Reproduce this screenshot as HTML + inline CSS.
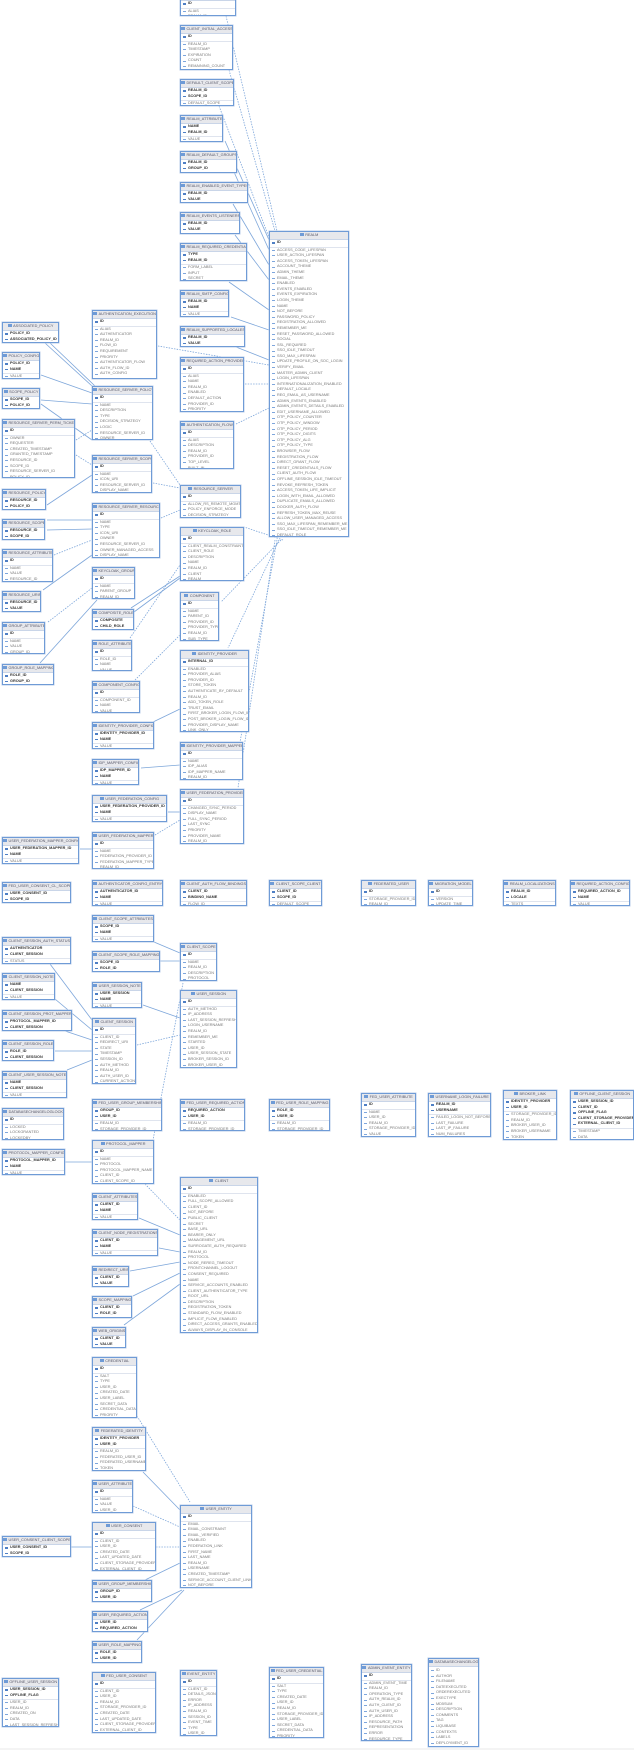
<!DOCTYPE html>
<html><head><meta charset="utf-8"><style>
html,body{margin:0;padding:0;background:#fff;width:634px;height:1750px;overflow:hidden;position:relative}
.t{position:absolute;border:1px solid #6f9bd6;background:#fff;font-family:"Liberation Sans",sans-serif;font-size:3.8px;line-height:5.6px;color:#777;box-sizing:border-box;overflow:hidden;box-shadow:0 0 0 0.5px #b9cdea}
.h{background:#e7e8ec;height:7px;line-height:7px;text-align:center;color:#556;border-bottom:1px solid #c9d5e8;white-space:nowrap;overflow:hidden}
.h:before{content:"";display:inline-block;width:4px;height:3px;background:#6f9bd6;margin-right:1.5px;vertical-align:-0.3px}
.r{padding-left:7px;position:relative;white-space:nowrap;overflow:hidden}
.r:before{content:"";position:absolute;left:2px;top:2.3px;width:3px;height:1px;background:#7ea6dc}
.k{font-weight:bold;color:#333}
.k:before{background:#4f7fc4;height:1.4px}
.s{border-top:1px solid #dfe4ee;margin-top:1px}
svg{position:absolute;left:0;top:0}
</style></head><body>
<svg width="634" height="1750" fill="none" stroke="#7da6da" stroke-width="0.8">
<g stroke-dasharray="1.5,1.2">
<path d="M226 16 L277 231"/><path d="M229 70 L275 231"/><path d="M219 106 L270 240"/>
<path d="M158 346 L269 365"/><path d="M245 384 L269 384"/><path d="M236 424 L269 408"/>
<path d="M283 540 L244 527"/><path d="M281 540 L221 602"/><path d="M279 540 L228 648"/><path d="M277 540 L240 742"/><path d="M275 540 L238 788"/>
<path d="M54 555 L92 540"/><path d="M48 622 L92 588"/><path d="M130 638 L180 565"/><path d="M135 680 L180 635"/>
<path d="M155 835 L180 820"/><path d="M153 483 L180 488"/><path d="M161 518 L180 510"/><path d="M150 441 L180 485"/>
<path d="M76 440 L92 430"/><path d="M76 455 L92 465"/>
<path d="M137 1045 L180 1035"/><path d="M183 983 L153 1140"/><path d="M145 1184 L180 1220"/>
<path d="M137 1416 L190 1502"/><path d="M133 1506 L180 1527"/><path d="M156 1547 L180 1547"/>
</g>
<path d="M225 141 L269 240"/><path d="M234 172 L269 250"/><path d="M233 204 L269 265"/><path d="M235 235 L269 280"/>
<path d="M229 282 L269 310"/><path d="M231 317 L269 330"/><path d="M236 347 L269 360"/>
<path d="M45 343 L92 386"/><path d="M50 343 L95 386"/><path d="M41 375 L92 393"/><path d="M41 400 L92 404"/><path d="M41 404 L92 440"/>
<path d="M47 505 L92 475"/><path d="M47 520 L92 520"/><path d="M47 530 L92 529"/><path d="M43 590 L92 555"/><path d="M40 663 L97 600"/>
<path d="M131 608 L180 576"/><path d="M134 612 L180 578"/><path d="M153 722 L180 709"/><path d="M141 768 L180 765"/><path d="M168 812 L180 812"/><path d="M80 849 L92 849"/>
<path d="M154 942 L180 953"/><path d="M160 961 L180 961"/><path d="M50 964 L92 1020"/><path d="M55 999 L92 1030"/><path d="M65 1031 L92 1040"/>
<path d="M55 1051 L92 1051"/><path d="M67 1070 L92 1060"/><path d="M143 1005 L180 1018"/><path d="M65 1162 L92 1162"/>
<path d="M139 1218 L180 1235"/><path d="M159 1248 L180 1252"/><path d="M130 1271 L180 1262"/><path d="M133 1296 L180 1273"/><path d="M124 1325 L180 1284"/>
<path d="M143 1472 L180 1510"/><path d="M71 1547 L92 1547"/><path d="M145 1580 L180 1563"/><path d="M140 1610 L182 1590"/><path d="M137 1640 L184 1590"/>
<path d="M0 1749 L634 1749" stroke="#e3e3e3"/>
</svg>

<div class=t style="left:180px;top:-8px;width:56px;height:24px"><div class=h>REALM_ALIAS</div><div class="r k">ID</div><div class="r s">ALIAS</div><div class=r>REALM_ID</div></div>
<div class=t style="left:180px;top:25px;width:53px;height:45px"><div class=h>CLIENT_INITIAL_ACCESS</div><div class="r k">ID</div><div class="r s">REALM_ID</div><div class=r>TIMESTAMP</div><div class=r>EXPIRATION</div><div class=r>COUNT</div><div class=r>REMAINING_COUNT</div></div>
<div class=t style="left:180px;top:79px;width:54px;height:27px"><div class=h>DEFAULT_CLIENT_SCOPE</div><div class="r k">REALM_ID</div><div class="r k">SCOPE_ID</div><div class="r s">DEFAULT_SCOPE</div></div>
<div class=t style="left:180px;top:115px;width:43px;height:27px"><div class=h>REALM_ATTRIBUTE</div><div class="r k">NAME</div><div class="r k">REALM_ID</div><div class="r s">VALUE</div></div>
<div class=t style="left:180px;top:151px;width:57px;height:22px"><div class=h>REALM_DEFAULT_GROUPS</div><div class="r k">REALM_ID</div><div class="r k">GROUP_ID</div></div>
<div class=t style="left:180px;top:182px;width:68px;height:21px"><div class=h>REALM_ENABLED_EVENT_TYPES</div><div class="r k">REALM_ID</div><div class="r k">VALUE</div></div>
<div class=t style="left:180px;top:212px;width:60px;height:22px"><div class=h>REALM_EVENTS_LISTENERS</div><div class="r k">REALM_ID</div><div class="r k">VALUE</div></div>
<div class=t style="left:180px;top:243px;width:67px;height:38px"><div class=h>REALM_REQUIRED_CREDENTIAL</div><div class="r k">TYPE</div><div class="r k">REALM_ID</div><div class="r s">FORM_LABEL</div><div class=r>INPUT</div><div class=r>SECRET</div></div>
<div class=t style="left:180px;top:290px;width:49px;height:27px"><div class=h>REALM_SMTP_CONFIG</div><div class="r k">REALM_ID</div><div class="r k">NAME</div><div class="r s">VALUE</div></div>
<div class=t style="left:180px;top:326px;width:65px;height:21px"><div class=h>REALM_SUPPORTED_LOCALES</div><div class="r k">REALM_ID</div><div class="r k">VALUE</div></div>
<div class=t style="left:180px;top:357px;width:64px;height:55px"><div class=h>REQUIRED_ACTION_PROVIDER</div><div class="r k">ID</div><div class="r s">ALIAS</div><div class=r>NAME</div><div class=r>REALM_ID</div><div class=r>ENABLED</div><div class=r>DEFAULT_ACTION</div><div class=r>PROVIDER_ID</div><div class=r>PRIORITY</div></div>
<div class=t style="left:180px;top:421px;width:54px;height:48px"><div class=h>AUTHENTICATION_FLOW</div><div class="r k">ID</div><div class="r s">ALIAS</div><div class=r>DESCRIPTION</div><div class=r>REALM_ID</div><div class=r>PROVIDER_ID</div><div class=r>TOP_LEVEL</div><div class=r>BUILT_IN</div></div>

<div class=t style="left:269px;top:231px;width:80px;height:306px"><div class=h>REALM</div><div class="r k">ID</div><div class="r s">ACCESS_CODE_LIFESPAN</div><div class=r>USER_ACTION_LIFESPAN</div><div class=r>ACCESS_TOKEN_LIFESPAN</div><div class=r>ACCOUNT_THEME</div><div class=r>ADMIN_THEME</div><div class=r>EMAIL_THEME</div><div class=r>ENABLED</div><div class=r>EVENTS_ENABLED</div><div class=r>EVENTS_EXPIRATION</div><div class=r>LOGIN_THEME</div><div class=r>NAME</div><div class=r>NOT_BEFORE</div><div class=r>PASSWORD_POLICY</div><div class=r>REGISTRATION_ALLOWED</div><div class=r>REMEMBER_ME</div><div class=r>RESET_PASSWORD_ALLOWED</div><div class=r>SOCIAL</div><div class=r>SSL_REQUIRED</div><div class=r>SSO_IDLE_TIMEOUT</div><div class=r>SSO_MAX_LIFESPAN</div><div class=r>UPDATE_PROFILE_ON_SOC_LOGIN</div><div class=r>VERIFY_EMAIL</div><div class=r>MASTER_ADMIN_CLIENT</div><div class=r>LOGIN_LIFESPAN</div><div class=r>INTERNATIONALIZATION_ENABLED</div><div class=r>DEFAULT_LOCALE</div><div class=r>REG_EMAIL_AS_USERNAME</div><div class=r>ADMIN_EVENTS_ENABLED</div><div class=r>ADMIN_EVENTS_DETAILS_ENABLED</div><div class=r>EDIT_USERNAME_ALLOWED</div><div class=r>OTP_POLICY_COUNTER</div><div class=r>OTP_POLICY_WINDOW</div><div class=r>OTP_POLICY_PERIOD</div><div class=r>OTP_POLICY_DIGITS</div><div class=r>OTP_POLICY_ALG</div><div class=r>OTP_POLICY_TYPE</div><div class=r>BROWSER_FLOW</div><div class=r>REGISTRATION_FLOW</div><div class=r>DIRECT_GRANT_FLOW</div><div class=r>RESET_CREDENTIALS_FLOW</div><div class=r>CLIENT_AUTH_FLOW</div><div class=r>OFFLINE_SESSION_IDLE_TIMEOUT</div><div class=r>REVOKE_REFRESH_TOKEN</div><div class=r>ACCESS_TOKEN_LIFE_IMPLICIT</div><div class=r>LOGIN_WITH_EMAIL_ALLOWED</div><div class=r>DUPLICATE_EMAILS_ALLOWED</div><div class=r>DOCKER_AUTH_FLOW</div><div class=r>REFRESH_TOKEN_MAX_REUSE</div><div class=r>ALLOW_USER_MANAGED_ACCESS</div><div class=r>SSO_MAX_LIFESPAN_REMEMBER_ME</div><div class=r>SSO_IDLE_TIMEOUT_REMEMBER_ME</div><div class=r>DEFAULT_ROLE</div></div>

<div class=t style="left:2px;top:322px;width:57px;height:21px"><div class=h>ASSOCIATED_POLICY</div><div class="r k">POLICY_ID</div><div class="r k">ASSOCIATED_POLICY_ID</div></div>
<div class=t style="left:2px;top:352px;width:38px;height:27px"><div class=h>POLICY_CONFIG</div><div class="r k">POLICY_ID</div><div class="r k">NAME</div><div class="r s">VALUE</div></div>
<div class=t style="left:2px;top:388px;width:38px;height:21px"><div class=h>SCOPE_POLICY</div><div class="r k">SCOPE_ID</div><div class="r k">POLICY_ID</div></div>
<div class=t style="left:2px;top:419px;width:73px;height:59px"><div class=h>RESOURCE_SERVER_PERM_TICKET</div><div class="r k">ID</div><div class="r s">OWNER</div><div class=r>REQUESTER</div><div class=r>CREATED_TIMESTAMP</div><div class=r>GRANTED_TIMESTAMP</div><div class=r>RESOURCE_ID</div><div class=r>SCOPE_ID</div><div class=r>RESOURCE_SERVER_ID</div><div class=r>POLICY_ID</div></div>
<div class=t style="left:92px;top:310px;width:65px;height:69px"><div class=h>AUTHENTICATION_EXECUTION</div><div class="r k">ID</div><div class="r s">ALIAS</div><div class=r>AUTHENTICATOR</div><div class=r>REALM_ID</div><div class=r>FLOW_ID</div><div class=r>REQUIREMENT</div><div class=r>PRIORITY</div><div class=r>AUTHENTICATOR_FLOW</div><div class=r>AUTH_FLOW_ID</div><div class=r>AUTH_CONFIG</div></div>
<div class=t style="left:92px;top:386px;width:61px;height:54px"><div class=h>RESOURCE_SERVER_POLICY</div><div class="r k">ID</div><div class="r s">NAME</div><div class=r>DESCRIPTION</div><div class=r>TYPE</div><div class=r>DECISION_STRATEGY</div><div class=r>LOGIC</div><div class=r>RESOURCE_SERVER_ID</div><div class=r>OWNER</div></div>
<div class=t style="left:92px;top:455px;width:60px;height:38px"><div class=h>RESOURCE_SERVER_SCOPE</div><div class="r k">ID</div><div class="r s">NAME</div><div class=r>ICON_URI</div><div class=r>RESOURCE_SERVER_ID</div><div class=r>DISPLAY_NAME</div></div>
<div class=t style="left:2px;top:489px;width:44px;height:21px"><div class=h>RESOURCE_POLICY</div><div class="r k">RESOURCE_ID</div><div class="r k">POLICY_ID</div></div>
<div class=t style="left:2px;top:519px;width:43px;height:21px"><div class=h>RESOURCE_SCOPE</div><div class="r k">RESOURCE_ID</div><div class="r k">SCOPE_ID</div></div>
<div class=t style="left:92px;top:503px;width:68px;height:55px"><div class=h>RESOURCE_SERVER_RESOURCE</div><div class="r k">ID</div><div class="r s">NAME</div><div class=r>TYPE</div><div class=r>ICON_URI</div><div class=r>OWNER</div><div class=r>RESOURCE_SERVER_ID</div><div class=r>OWNER_MANAGED_ACCESS</div><div class=r>DISPLAY_NAME</div></div>
<div class=t style="left:2px;top:549px;width:51px;height:33px"><div class=h>RESOURCE_ATTRIBUTE</div><div class="r k">ID</div><div class="r s">NAME</div><div class=r>VALUE</div><div class=r>RESOURCE_ID</div></div>
<div class=t style="left:2px;top:591px;width:39px;height:21px"><div class=h>RESOURCE_URIS</div><div class="r k">RESOURCE_ID</div><div class="r k">VALUE</div></div>
<div class=t style="left:2px;top:622px;width:43px;height:32px"><div class=h>GROUP_ATTRIBUTE</div><div class="r k">ID</div><div class="r s">NAME</div><div class=r>VALUE</div><div class=r>GROUP_ID</div></div>
<div class=t style="left:2px;top:664px;width:52px;height:21px"><div class=h>GROUP_ROLE_MAPPING</div><div class="r k">ROLE_ID</div><div class="r k">GROUP_ID</div></div>
<div class=t style="left:92px;top:567px;width:43px;height:32px"><div class=h>KEYCLOAK_GROUP</div><div class="r k">ID</div><div class="r s">NAME</div><div class=r>PARENT_GROUP</div><div class=r>REALM_ID</div></div>
<div class=t style="left:92px;top:609px;width:42px;height:21px"><div class=h>COMPOSITE_ROLE</div><div class="r k">COMPOSITE</div><div class="r k">CHILD_ROLE</div></div>
<div class=t style="left:92px;top:640px;width:40px;height:31px"><div class=h>ROLE_ATTRIBUTE</div><div class="r k">ID</div><div class="r s">ROLE_ID</div><div class=r>NAME</div><div class=r>VALUE</div></div>
<div class=t style="left:92px;top:681px;width:48px;height:32px"><div class=h>COMPONENT_CONFIG</div><div class="r k">ID</div><div class="r s">COMPONENT_ID</div><div class=r>NAME</div><div class=r>VALUE</div></div>
<div class=t style="left:92px;top:722px;width:62px;height:27px"><div class=h>IDENTITY_PROVIDER_CONFIG</div><div class="r k">IDENTITY_PROVIDER_ID</div><div class="r k">NAME</div><div class="r s">VALUE</div></div>
<div class=t style="left:92px;top:759px;width:47px;height:26px"><div class=h>IDP_MAPPER_CONFIG</div><div class="r k">IDP_MAPPER_ID</div><div class="r k">NAME</div><div class="r s">VALUE</div></div>
<div class=t style="left:92px;top:795px;width:75px;height:27px"><div class=h>USER_FEDERATION_CONFIG</div><div class="r k">USER_FEDERATION_PROVIDER_ID</div><div class="r k">NAME</div><div class="r s">VALUE</div></div>
<div class=t style="left:2px;top:837px;width:77px;height:27px"><div class=h>USER_FEDERATION_MAPPER_CONFIG</div><div class="r k">USER_FEDERATION_MAPPER_ID</div><div class="r k">NAME</div><div class="r s">VALUE</div></div>
<div class=t style="left:92px;top:832px;width:62px;height:37px"><div class=h>USER_FEDERATION_MAPPER</div><div class="r k">ID</div><div class="r s">NAME</div><div class=r>FEDERATION_PROVIDER_ID</div><div class=r>FEDERATION_MAPPER_TYPE</div><div class=r>REALM_ID</div></div>
<div class=t style="left:180px;top:485px;width:61px;height:33px"><div class=h>RESOURCE_SERVER</div><div class="r k">ID</div><div class="r s">ALLOW_RS_REMOTE_MGMT</div><div class=r>POLICY_ENFORCE_MODE</div><div class=r>DECISION_STRATEGY</div></div>
<div class=t style="left:180px;top:527px;width:64px;height:54px"><div class=h>KEYCLOAK_ROLE</div><div class="r k">ID</div><div class="r s">CLIENT_REALM_CONSTRAINT</div><div class=r>CLIENT_ROLE</div><div class=r>DESCRIPTION</div><div class=r>NAME</div><div class=r>REALM_ID</div><div class=r>CLIENT</div><div class=r>REALM</div></div>
<div class=t style="left:180px;top:592px;width:39px;height:49px"><div class=h>COMPONENT</div><div class="r k">ID</div><div class="r s">NAME</div><div class=r>PARENT_ID</div><div class=r>PROVIDER_ID</div><div class=r>PROVIDER_TYPE</div><div class=r>REALM_ID</div><div class=r>SUB_TYPE</div></div>
<div class=t style="left:180px;top:650px;width:69px;height:82px"><div class=h>IDENTITY_PROVIDER</div><div class="r k">INTERNAL_ID</div><div class="r s">ENABLED</div><div class=r>PROVIDER_ALIAS</div><div class=r>PROVIDER_ID</div><div class=r>STORE_TOKEN</div><div class=r>AUTHENTICATE_BY_DEFAULT</div><div class=r>REALM_ID</div><div class=r>ADD_TOKEN_ROLE</div><div class=r>TRUST_EMAIL</div><div class=r>FIRST_BROKER_LOGIN_FLOW_ID</div><div class=r>POST_BROKER_LOGIN_FLOW_ID</div><div class=r>PROVIDER_DISPLAY_NAME</div><div class=r>LINK_ONLY</div></div>
<div class=t style="left:180px;top:742px;width:63px;height:38px"><div class=h>IDENTITY_PROVIDER_MAPPER</div><div class="r k">ID</div><div class="r s">NAME</div><div class=r>IDP_ALIAS</div><div class=r>IDP_MAPPER_NAME</div><div class=r>REALM_ID</div></div>
<div class=t style="left:180px;top:789px;width:64px;height:55px"><div class=h>USER_FEDERATION_PROVIDER</div><div class="r k">ID</div><div class="r s">CHANGED_SYNC_PERIOD</div><div class=r>DISPLAY_NAME</div><div class=r>FULL_SYNC_PERIOD</div><div class=r>LAST_SYNC</div><div class=r>PRIORITY</div><div class=r>PROVIDER_NAME</div><div class=r>REALM_ID</div></div>

<div class=t style="left:2px;top:882px;width:69px;height:21px"><div class=h>FED_USER_CONSENT_CL_SCOPE</div><div class="r k">USER_CONSENT_ID</div><div class="r k">SCOPE_ID</div></div>
<div class=t style="left:92px;top:880px;width:71px;height:26px"><div class=h>AUTHENTICATOR_CONFIG_ENTRY</div><div class="r k">AUTHENTICATOR_ID</div><div class="r k">NAME</div><div class="r s">VALUE</div></div>
<div class=t style="left:180px;top:880px;width:67px;height:26px"><div class=h>CLIENT_AUTH_FLOW_BINDINGS</div><div class="r k">CLIENT_ID</div><div class="r k">BINDING_NAME</div><div class="r s">FLOW_ID</div></div>
<div class=t style="left:269px;top:880px;width:53px;height:26px"><div class=h>CLIENT_SCOPE_CLIENT</div><div class="r k">CLIENT_ID</div><div class="r k">SCOPE_ID</div><div class="r s">DEFAULT_SCOPE</div></div>
<div class=t style="left:361px;top:880px;width:55px;height:26px"><div class=h>FEDERATED_USER</div><div class="r k">ID</div><div class="r s">STORAGE_PROVIDER_ID</div><div class=r>REALM_ID</div></div>
<div class=t style="left:428px;top:880px;width:45px;height:26px"><div class=h>MIGRATION_MODEL</div><div class="r k">ID</div><div class="r s">VERSION</div><div class=r>UPDATE_TIME</div></div>
<div class=t style="left:503px;top:880px;width:53px;height:26px"><div class=h>REALM_LOCALIZATIONS</div><div class="r k">REALM_ID</div><div class="r k">LOCALE</div><div class="r s">TEXTS</div></div>
<div class=t style="left:570px;top:880px;width:60px;height:26px"><div class=h>REQUIRED_ACTION_CONFIG</div><div class="r k">REQUIRED_ACTION_ID</div><div class="r k">NAME</div><div class="r s">VALUE</div></div>
<div class=t style="left:92px;top:915px;width:62px;height:27px"><div class=h>CLIENT_SCOPE_ATTRIBUTES</div><div class="r k">SCOPE_ID</div><div class="r k">NAME</div><div class="r s">VALUE</div></div>
<div class=t style="left:2px;top:937px;width:69px;height:27px"><div class=h>CLIENT_SESSION_AUTH_STATUS</div><div class="r k">AUTHENTICATOR</div><div class="r k">CLIENT_SESSION</div><div class="r s">STATUS</div></div>
<div class=t style="left:92px;top:951px;width:68px;height:21px"><div class=h>CLIENT_SCOPE_ROLE_MAPPING</div><div class="r k">SCOPE_ID</div><div class="r k">ROLE_ID</div></div>
<div class=t style="left:180px;top:943px;width:37px;height:38px"><div class=h>CLIENT_SCOPE</div><div class="r k">ID</div><div class="r s">NAME</div><div class=r>REALM_ID</div><div class=r>DESCRIPTION</div><div class=r>PROTOCOL</div></div>
<div class=t style="left:2px;top:973px;width:53px;height:27px"><div class=h>CLIENT_SESSION_NOTE</div><div class="r k">NAME</div><div class="r k">CLIENT_SESSION</div><div class="r s">VALUE</div></div>
<div class=t style="left:92px;top:982px;width:50px;height:26px"><div class=h>USER_SESSION_NOTE</div><div class="r k">USER_SESSION</div><div class="r k">NAME</div><div class="r s">VALUE</div></div>
<div class=t style="left:180px;top:990px;width:57px;height:78px"><div class=h>USER_SESSION</div><div class="r k">ID</div><div class="r s">AUTH_METHOD</div><div class=r>IP_ADDRESS</div><div class=r>LAST_SESSION_REFRESH</div><div class=r>LOGIN_USERNAME</div><div class=r>REALM_ID</div><div class=r>REMEMBER_ME</div><div class=r>STARTED</div><div class=r>USER_ID</div><div class=r>USER_SESSION_STATE</div><div class=r>BROKER_SESSION_ID</div><div class=r>BROKER_USER_ID</div></div>
<div class=t style="left:2px;top:1010px;width:70px;height:21px"><div class=h>CLIENT_SESSION_PROT_MAPPER</div><div class="r k">PROTOCOL_MAPPER_ID</div><div class="r k">CLIENT_SESSION</div></div>
<div class=t style="left:92px;top:1018px;width:44px;height:66px"><div class=h>CLIENT_SESSION</div><div class="r k">ID</div><div class="r s">CLIENT_ID</div><div class=r>REDIRECT_URI</div><div class=r>STATE</div><div class=r>TIMESTAMP</div><div class=r>SESSION_ID</div><div class=r>AUTH_METHOD</div><div class=r>REALM_ID</div><div class=r>AUTH_USER_ID</div><div class=r>CURRENT_ACTION</div></div>
<div class=t style="left:2px;top:1040px;width:52px;height:21px"><div class=h>CLIENT_SESSION_ROLE</div><div class="r k">ROLE_ID</div><div class="r k">CLIENT_SESSION</div></div>
<div class=t style="left:2px;top:1071px;width:65px;height:27px"><div class=h>CLIENT_USER_SESSION_NOTE</div><div class="r k">NAME</div><div class="r k">CLIENT_SESSION</div><div class="r s">VALUE</div></div>
<div class=t style="left:2px;top:1108px;width:62px;height:32px"><div class=h>DATABASECHANGELOGLOCK</div><div class="r k">ID</div><div class="r s">LOCKED</div><div class=r>LOCKGRANTED</div><div class=r>LOCKEDBY</div></div>
<div class=t style="left:92px;top:1099px;width:70px;height:32px"><div class=h>FED_USER_GROUP_MEMBERSHIP</div><div class="r k">GROUP_ID</div><div class="r k">USER_ID</div><div class="r s">REALM_ID</div><div class=r>STORAGE_PROVIDER_ID</div></div>
<div class=t style="left:180px;top:1099px;width:65px;height:32px"><div class=h>FED_USER_REQUIRED_ACTION</div><div class="r k">REQUIRED_ACTION</div><div class="r k">USER_ID</div><div class="r s">REALM_ID</div><div class=r>STORAGE_PROVIDER_ID</div></div>
<div class=t style="left:269px;top:1099px;width:61px;height:32px"><div class=h>FED_USER_ROLE_MAPPING</div><div class="r k">ROLE_ID</div><div class="r k">USER_ID</div><div class="r s">REALM_ID</div><div class=r>STORAGE_PROVIDER_ID</div></div>
<div class=t style="left:361px;top:1093px;width:55px;height:44px"><div class=h>FED_USER_ATTRIBUTE</div><div class="r k">ID</div><div class="r s">NAME</div><div class=r>USER_ID</div><div class=r>REALM_ID</div><div class=r>STORAGE_PROVIDER_ID</div><div class=r>VALUE</div></div>
<div class=t style="left:428px;top:1093px;width:63px;height:44px"><div class=h>USERNAME_LOGIN_FAILURE</div><div class="r k">REALM_ID</div><div class="r k">USERNAME</div><div class="r s">FAILED_LOGIN_NOT_BEFORE</div><div class=r>LAST_FAILURE</div><div class=r>LAST_IP_FAILURE</div><div class=r>NUM_FAILURES</div></div>
<div class=t style="left:503px;top:1090px;width:54px;height:50px"><div class=h>BROKER_LINK</div><div class="r k">IDENTITY_PROVIDER</div><div class="r k">USER_ID</div><div class="r s">STORAGE_PROVIDER_ID</div><div class=r>REALM_ID</div><div class=r>BROKER_USER_ID</div><div class=r>BROKER_USERNAME</div><div class=r>TOKEN</div></div>
<div class=t style="left:570px;top:1090px;width:64px;height:50px"><div class=h>OFFLINE_CLIENT_SESSION</div><div class="r k">USER_SESSION_ID</div><div class="r k">CLIENT_ID</div><div class="r k">OFFLINE_FLAG</div><div class="r k">CLIENT_STORAGE_PROVIDER</div><div class="r k">EXTERNAL_CLIENT_ID</div><div class="r s">TIMESTAMP</div><div class=r>DATA</div></div>
<div class=t style="left:2px;top:1149px;width:63px;height:26px"><div class=h>PROTOCOL_MAPPER_CONFIG</div><div class="r k">PROTOCOL_MAPPER_ID</div><div class="r k">NAME</div><div class="r s">VALUE</div></div>
<div class=t style="left:92px;top:1140px;width:62px;height:44px"><div class=h>PROTOCOL_MAPPER</div><div class="r k">ID</div><div class="r s">NAME</div><div class=r>PROTOCOL</div><div class=r>PROTOCOL_MAPPER_NAME</div><div class=r>CLIENT_ID</div><div class=r>CLIENT_SCOPE_ID</div></div>

<div class=t style="left:180px;top:1177px;width:78px;height:156px"><div class=h>CLIENT</div><div class="r k">ID</div><div class="r s">ENABLED</div><div class=r>FULL_SCOPE_ALLOWED</div><div class=r>CLIENT_ID</div><div class=r>NOT_BEFORE</div><div class=r>PUBLIC_CLIENT</div><div class=r>SECRET</div><div class=r>BASE_URL</div><div class=r>BEARER_ONLY</div><div class=r>MANAGEMENT_URL</div><div class=r>SURROGATE_AUTH_REQUIRED</div><div class=r>REALM_ID</div><div class=r>PROTOCOL</div><div class=r>NODE_REREG_TIMEOUT</div><div class=r>FRONTCHANNEL_LOGOUT</div><div class=r>CONSENT_REQUIRED</div><div class=r>NAME</div><div class=r>SERVICE_ACCOUNTS_ENABLED</div><div class=r>CLIENT_AUTHENTICATOR_TYPE</div><div class=r>ROOT_URL</div><div class=r>DESCRIPTION</div><div class=r>REGISTRATION_TOKEN</div><div class=r>STANDARD_FLOW_ENABLED</div><div class=r>IMPLICIT_FLOW_ENABLED</div><div class=r>DIRECT_ACCESS_GRANTS_ENABLED</div><div class=r>ALWAYS_DISPLAY_IN_CONSOLE</div></div>
<div class=t style="left:92px;top:1193px;width:46px;height:27px"><div class=h>CLIENT_ATTRIBUTES</div><div class="r k">CLIENT_ID</div><div class="r k">NAME</div><div class="r s">VALUE</div></div>
<div class=t style="left:92px;top:1229px;width:66px;height:27px"><div class=h>CLIENT_NODE_REGISTRATIONS</div><div class="r k">CLIENT_ID</div><div class="r k">NAME</div><div class="r s">VALUE</div></div>
<div class=t style="left:92px;top:1266px;width:37px;height:21px"><div class=h>REDIRECT_URIS</div><div class="r k">CLIENT_ID</div><div class="r k">VALUE</div></div>
<div class=t style="left:92px;top:1296px;width:40px;height:22px"><div class=h>SCOPE_MAPPING</div><div class="r k">CLIENT_ID</div><div class="r k">ROLE_ID</div></div>
<div class=t style="left:92px;top:1327px;width:34px;height:21px"><div class=h>WEB_ORIGINS</div><div class="r k">CLIENT_ID</div><div class="r k">VALUE</div></div>
<div class=t style="left:92px;top:1357px;width:45px;height:61px"><div class=h>CREDENTIAL</div><div class="r k">ID</div><div class="r s">SALT</div><div class=r>TYPE</div><div class=r>USER_ID</div><div class=r>CREATED_DATE</div><div class=r>USER_LABEL</div><div class=r>SECRET_DATA</div><div class=r>CREDENTIAL_DATA</div><div class=r>PRIORITY</div></div>
<div class=t style="left:92px;top:1427px;width:54px;height:44px"><div class=h>FEDERATED_IDENTITY</div><div class="r k">IDENTITY_PROVIDER</div><div class="r k">USER_ID</div><div class="r s">REALM_ID</div><div class=r>FEDERATED_USER_ID</div><div class=r>FEDERATED_USERNAME</div><div class=r>TOKEN</div></div>
<div class=t style="left:92px;top:1480px;width:41px;height:33px"><div class=h>USER_ATTRIBUTE</div><div class="r k">ID</div><div class="r s">NAME</div><div class=r>VALUE</div><div class=r>USER_ID</div></div>
<div class=t style="left:180px;top:1505px;width:72px;height:83px"><div class=h>USER_ENTITY</div><div class="r k">ID</div><div class="r s">EMAIL</div><div class=r>EMAIL_CONSTRAINT</div><div class=r>EMAIL_VERIFIED</div><div class=r>ENABLED</div><div class=r>FEDERATION_LINK</div><div class=r>FIRST_NAME</div><div class=r>LAST_NAME</div><div class=r>REALM_ID</div><div class=r>USERNAME</div><div class=r>CREATED_TIMESTAMP</div><div class=r>SERVICE_ACCOUNT_CLIENT_LINK</div><div class=r>NOT_BEFORE</div></div>
<div class=t style="left:92px;top:1522px;width:64px;height:49px"><div class=h>USER_CONSENT</div><div class="r k">ID</div><div class="r s">CLIENT_ID</div><div class=r>USER_ID</div><div class=r>CREATED_DATE</div><div class=r>LAST_UPDATED_DATE</div><div class=r>CLIENT_STORAGE_PROVIDER</div><div class=r>EXTERNAL_CLIENT_ID</div></div>
<div class=t style="left:2px;top:1536px;width:69px;height:21px"><div class=h>USER_CONSENT_CLIENT_SCOPE</div><div class="r k">USER_CONSENT_ID</div><div class="r k">SCOPE_ID</div></div>
<div class=t style="left:92px;top:1580px;width:60px;height:22px"><div class=h>USER_GROUP_MEMBERSHIP</div><div class="r k">GROUP_ID</div><div class="r k">USER_ID</div></div>
<div class=t style="left:92px;top:1611px;width:56px;height:21px"><div class=h>USER_REQUIRED_ACTION</div><div class="r k">USER_ID</div><div class="r k">REQUIRED_ACTION</div></div>
<div class=t style="left:92px;top:1641px;width:50px;height:22px"><div class=h>USER_ROLE_MAPPING</div><div class="r k">ROLE_ID</div><div class="r k">USER_ID</div></div>
<div class=t style="left:2px;top:1678px;width:57px;height:49px"><div class=h>OFFLINE_USER_SESSION</div><div class="r k">USER_SESSION_ID</div><div class="r k">OFFLINE_FLAG</div><div class="r s">USER_ID</div><div class=r>REALM_ID</div><div class=r>CREATED_ON</div><div class=r>DATA</div><div class=r>LAST_SESSION_REFRESH</div></div>
<div class=t style="left:92px;top:1672px;width:64px;height:61px"><div class=h>FED_USER_CONSENT</div><div class="r k">ID</div><div class="r s">CLIENT_ID</div><div class=r>USER_ID</div><div class=r>REALM_ID</div><div class=r>STORAGE_PROVIDER_ID</div><div class=r>CREATED_DATE</div><div class=r>LAST_UPDATED_DATE</div><div class=r>CLIENT_STORAGE_PROVIDER</div><div class=r>EXTERNAL_CLIENT_ID</div></div>
<div class=t style="left:180px;top:1670px;width:37px;height:66px"><div class=h>EVENT_ENTITY</div><div class="r k">ID</div><div class="r s">CLIENT_ID</div><div class=r>DETAILS_JSON</div><div class=r>ERROR</div><div class=r>IP_ADDRESS</div><div class=r>REALM_ID</div><div class=r>SESSION_ID</div><div class=r>EVENT_TIME</div><div class=r>TYPE</div><div class=r>USER_ID</div></div>
<div class=t style="left:269px;top:1667px;width:55px;height:71px"><div class=h>FED_USER_CREDENTIAL</div><div class="r k">ID</div><div class="r s">SALT</div><div class=r>TYPE</div><div class=r>CREATED_DATE</div><div class=r>USER_ID</div><div class=r>REALM_ID</div><div class=r>STORAGE_PROVIDER_ID</div><div class=r>USER_LABEL</div><div class=r>SECRET_DATA</div><div class=r>CREDENTIAL_DATA</div><div class=r>PRIORITY</div></div>
<div class=t style="left:361px;top:1664px;width:51px;height:77px"><div class=h>ADMIN_EVENT_ENTITY</div><div class="r k">ID</div><div class="r s">ADMIN_EVENT_TIME</div><div class=r>REALM_ID</div><div class=r>OPERATION_TYPE</div><div class=r>AUTH_REALM_ID</div><div class=r>AUTH_CLIENT_ID</div><div class=r>AUTH_USER_ID</div><div class=r>IP_ADDRESS</div><div class=r>RESOURCE_PATH</div><div class=r>REPRESENTATION</div><div class=r>ERROR</div><div class=r>RESOURCE_TYPE</div></div>
<div class=t style="left:428px;top:1658px;width:51px;height:89px"><div class=h>DATABASECHANGELOG</div><div class="r" style="margin-top:1px">ID</div><div class=r>AUTHOR</div><div class=r>FILENAME</div><div class=r>DATEEXECUTED</div><div class=r>ORDEREXECUTED</div><div class=r>EXECTYPE</div><div class=r>MD5SUM</div><div class=r>DESCRIPTION</div><div class=r>COMMENTS</div><div class=r>TAG</div><div class=r>LIQUIBASE</div><div class=r>CONTEXTS</div><div class=r>LABELS</div><div class=r>DEPLOYMENT_ID</div></div>
</body></html>
